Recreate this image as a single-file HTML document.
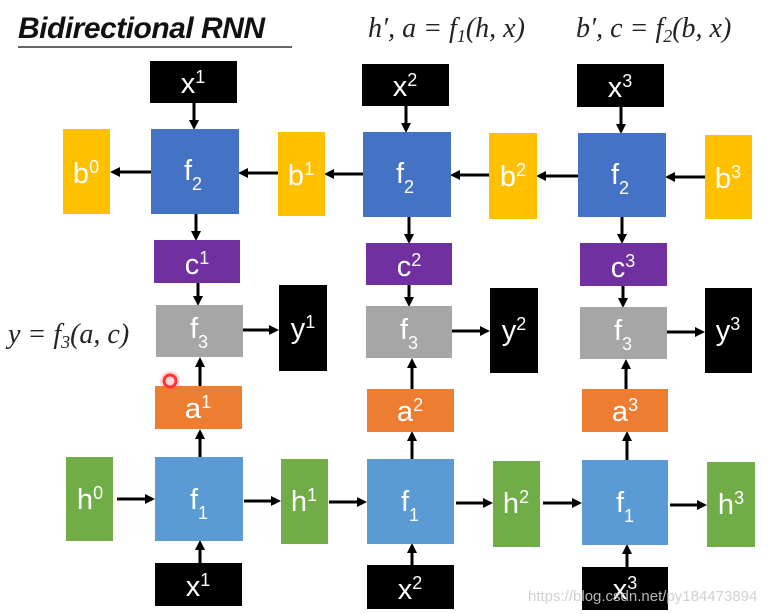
<!DOCTYPE html>
<html><head><meta charset="utf-8"><style>
html,body{margin:0;padding:0;background:#fff;width:771px;height:614px;overflow:hidden}
svg{display:block}
.l{font-family:"Liberation Sans Narrow","Liberation Sans",sans-serif;fill:#fff;font-size:29px;text-anchor:middle}
.s{font-size:18px}
.m{font-family:"Liberation Serif",serif;font-style:italic;font-size:28px;fill:#222}
</style></head><body>
<svg width="771" height="614" viewBox="0 0 771 614" xmlns="http://www.w3.org/2000/svg">
<defs><marker id="a" markerWidth="10" markerHeight="10" refX="7" refY="5" orient="auto" markerUnits="userSpaceOnUse"><path d="M0,0 L10,5 L0,10 z" fill="#000"/></marker></defs>
<text x="18" y="38" font-family="Liberation Sans Narrow,Liberation Sans,sans-serif" font-weight="bold" font-style="italic" font-size="30" fill="#111" letter-spacing="-0.5">Bidirectional RNN</text>
<line x1="18" y1="47" x2="292" y2="47" stroke="#333" stroke-width="1.5"/>
<text x="368" y="37" class="m">h′, a = f<tspan font-size="18" dy="5">1</tspan><tspan dy="-5">(h, x)</tspan></text>
<text x="576" y="37" class="m">b′, c = f<tspan font-size="18" dy="5">2</tspan><tspan dy="-5">(b, x)</tspan></text>
<text x="8" y="343" class="m">y = f<tspan font-size="18" dy="5">3</tspan><tspan dy="-5">(a, c)</tspan></text>

<g stroke="#000" stroke-width="3" marker-end="url(#a)">
<line x1="194" y1="103" x2="194" y2="127"/><line x1="406" y1="106" x2="406" y2="130"/><line x1="621" y1="107" x2="621" y2="131"/>
<line x1="151" y1="172" x2="113" y2="172"/><line x1="278" y1="173" x2="241" y2="173"/><line x1="363" y1="174" x2="327" y2="174"/>
<line x1="489" y1="175" x2="453" y2="175"/><line x1="578" y1="176" x2="539" y2="176"/><line x1="705" y1="177" x2="668" y2="177"/>
<line x1="196" y1="214" x2="196" y2="238"/><line x1="409" y1="217" x2="409" y2="241"/><line x1="622" y1="217" x2="622" y2="241"/>
<line x1="198" y1="283" x2="198" y2="303"/><line x1="409" y1="285" x2="409" y2="304"/><line x1="623" y1="286" x2="623" y2="305"/>
<line x1="243" y1="330" x2="276" y2="330"/><line x1="452" y1="331" x2="487" y2="331"/><line x1="667" y1="332" x2="702" y2="332"/>
<line x1="200" y1="386" x2="200" y2="360"/><line x1="412" y1="389" x2="412" y2="361"/><line x1="626" y1="389" x2="626" y2="362"/>
<line x1="200" y1="457" x2="200" y2="432"/><line x1="412" y1="459" x2="412" y2="434"/><line x1="627" y1="460" x2="627" y2="434"/>
<line x1="117" y1="499" x2="152" y2="499"/><line x1="244" y1="501" x2="278" y2="501"/><line x1="329" y1="502" x2="364" y2="502"/>
<line x1="456" y1="503" x2="490" y2="503"/><line x1="543" y1="503" x2="579" y2="503"/><line x1="670" y1="505" x2="704" y2="505"/>
<line x1="200" y1="563" x2="200" y2="543"/><line x1="412" y1="565" x2="412" y2="546"/><line x1="627" y1="567" x2="627" y2="547"/>
</g>

<g>
<rect x="150" y="61" width="87" height="42" fill="#000"/><rect x="362" y="64" width="87" height="42" fill="#000"/><rect x="577" y="64" width="87" height="43" fill="#000"/>
<rect x="151" y="129" width="88" height="85" fill="#4472C4"/><rect x="363" y="132" width="88" height="85" fill="#4472C4"/><rect x="578" y="133" width="88" height="84" fill="#4472C4"/>
<rect x="63" y="129" width="47" height="85" fill="#FFC000"/><rect x="278" y="132" width="47" height="84" fill="#FFC000"/><rect x="489" y="133" width="48" height="86" fill="#FFC000"/><rect x="705" y="135" width="47" height="84" fill="#FFC000"/>
<rect x="154" y="240" width="86" height="43" fill="#7030A0"/><rect x="366" y="243" width="86" height="42" fill="#7030A0"/><rect x="580" y="243" width="87" height="43" fill="#7030A0"/>
<rect x="156" y="305" width="87" height="52" fill="#A6A6A6"/><rect x="366" y="306" width="86" height="52" fill="#A6A6A6"/><rect x="580" y="307" width="87" height="52" fill="#A6A6A6"/>
<rect x="279" y="285" width="48" height="86" fill="#000"/><rect x="490" y="288" width="48" height="85" fill="#000"/><rect x="705" y="288" width="47" height="85" fill="#000"/>
<rect x="155" y="386" width="87" height="43" fill="#ED7D31"/><rect x="367" y="389" width="87" height="43" fill="#ED7D31"/><rect x="582" y="389" width="86" height="43" fill="#ED7D31"/>
<rect x="155" y="457" width="88" height="84" fill="#5B9BD5"/><rect x="367" y="459" width="87" height="85" fill="#5B9BD5"/><rect x="582" y="460" width="86" height="85" fill="#5B9BD5"/>
<rect x="66" y="457" width="47" height="84" fill="#70AD47"/><rect x="281" y="459" width="47" height="85" fill="#70AD47"/><rect x="493" y="461" width="47" height="86" fill="#70AD47"/><rect x="707" y="462" width="48" height="85" fill="#70AD47"/>
<rect x="155" y="563" width="87" height="43" fill="#000"/><rect x="367" y="565" width="87" height="44" fill="#000"/><rect x="582" y="567" width="86" height="43" fill="#000"/>
</g>

<g class="l">
<text x="193" y="93">x<tspan class="s" dy="-10">1</tspan></text><text x="405" y="96">x<tspan class="s" dy="-10">2</tspan></text><text x="620" y="97">x<tspan class="s" dy="-10">3</tspan></text>
<text x="193" y="180">f<tspan class="s" dy="10">2</tspan></text><text x="405" y="183">f<tspan class="s" dy="10">2</tspan></text><text x="620" y="184">f<tspan class="s" dy="10">2</tspan></text>
<text x="86" y="183">b<tspan class="s" dy="-10">0</tspan></text><text x="301" y="185">b<tspan class="s" dy="-10">1</tspan></text><text x="513" y="186">b<tspan class="s" dy="-10">2</tspan></text><text x="728" y="188">b<tspan class="s" dy="-10">3</tspan></text>
<text x="197" y="274">c<tspan class="s" dy="-10">1</tspan></text><text x="409" y="276">c<tspan class="s" dy="-10">2</tspan></text><text x="623" y="277">c<tspan class="s" dy="-10">3</tspan></text>
<text x="199" y="338">f<tspan class="s" dy="10">3</tspan></text><text x="409" y="339">f<tspan class="s" dy="10">3</tspan></text><text x="623" y="340">f<tspan class="s" dy="10">3</tspan></text>
<text x="303" y="338">y<tspan class="s" dy="-10">1</tspan></text><text x="514" y="340">y<tspan class="s" dy="-10">2</tspan></text><text x="728" y="340">y<tspan class="s" dy="-10">3</tspan></text>
<text x="198" y="418">a<tspan class="s" dy="-10">1</tspan></text><text x="410" y="421">a<tspan class="s" dy="-10">2</tspan></text><text x="625" y="421">a<tspan class="s" dy="-10">3</tspan></text>
<text x="199" y="509">f<tspan class="s" dy="10">1</tspan></text><text x="410" y="511">f<tspan class="s" dy="10">1</tspan></text><text x="625" y="512">f<tspan class="s" dy="10">1</tspan></text>
<text x="90" y="509">h<tspan class="s" dy="-10">0</tspan></text><text x="304" y="511">h<tspan class="s" dy="-10">1</tspan></text><text x="516" y="513">h<tspan class="s" dy="-10">2</tspan></text><text x="731" y="514">h<tspan class="s" dy="-10">3</tspan></text>
<text x="198" y="596">x<tspan class="s" dy="-10">1</tspan></text><text x="410" y="599">x<tspan class="s" dy="-10">2</tspan></text><text x="625" y="599">x<tspan class="s" dy="-10">3</tspan></text>
</g>
<circle cx="170" cy="381" r="6" fill="none" stroke="#f22" stroke-width="3"/>
<circle cx="170" cy="381" r="10" fill="#f66" opacity="0.25"/>
<text x="528" y="601" font-family="Liberation Sans,sans-serif" font-size="15" fill="#ccc" opacity="0.9">https://blog.csdn.net/py184473894</text>
</svg>
</body></html>
